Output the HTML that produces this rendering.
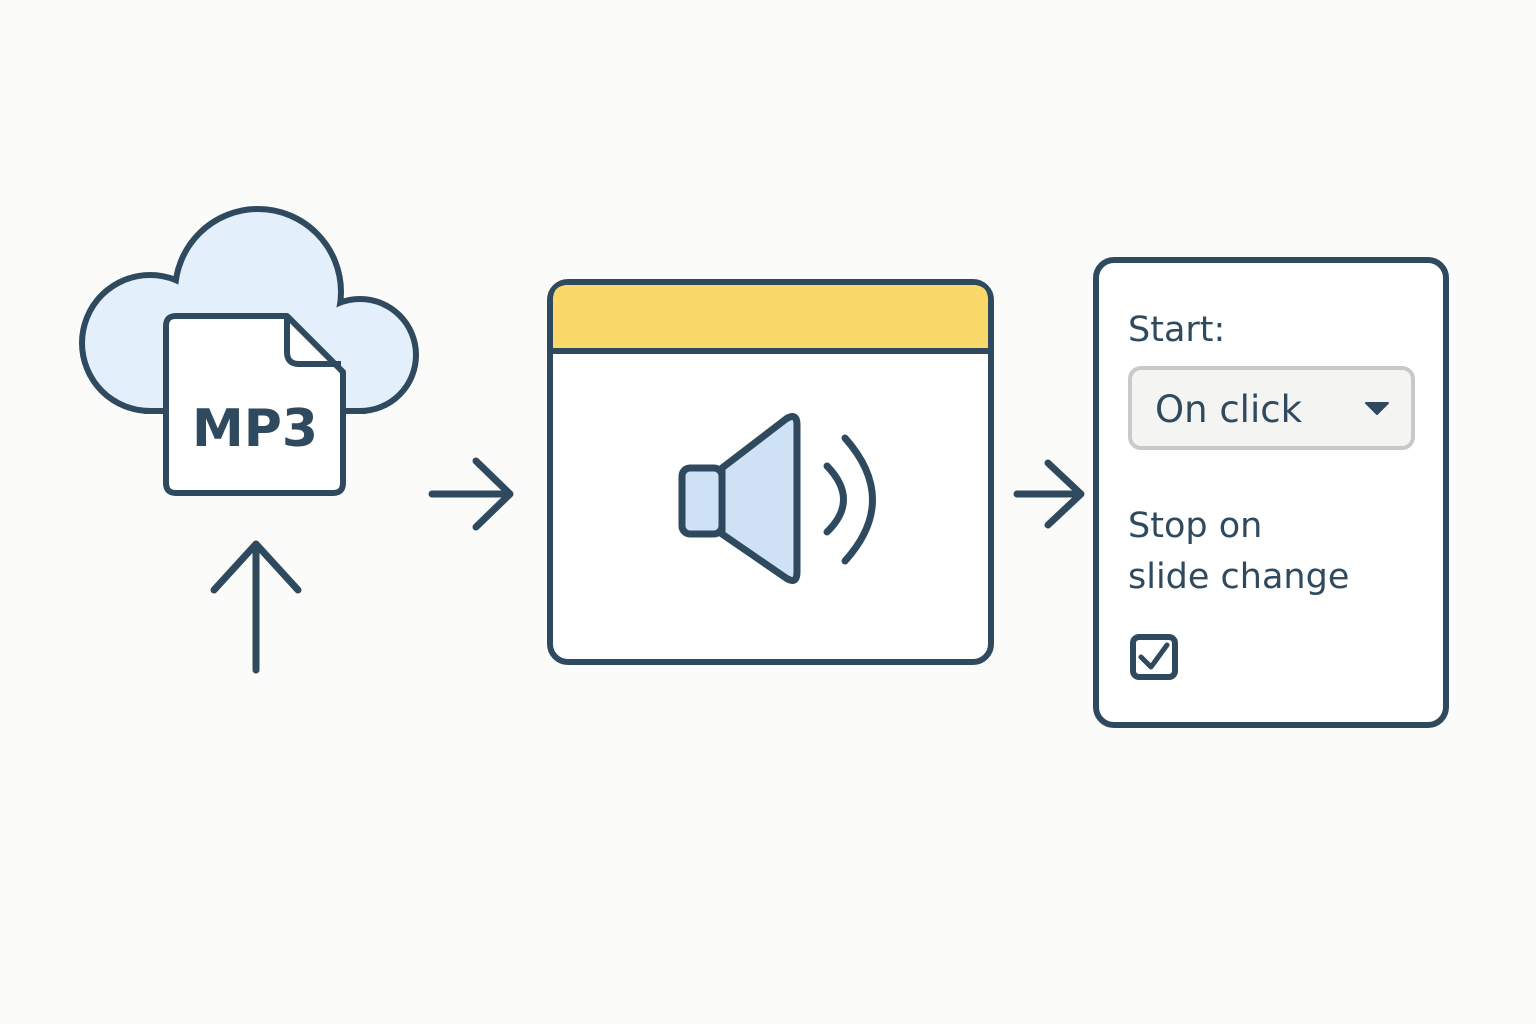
<!DOCTYPE html>
<html><head><meta charset="utf-8"><style>
html,body{margin:0;padding:0;background:#fbfbf9;}
svg{display:block}
text{font-family:"DejaVu Sans","Liberation Sans",sans-serif;fill:#2f4a5e}
</style></head><body>
<svg width="1536" height="1024" viewBox="0 0 1536 1024" xmlns="http://www.w3.org/2000/svg">
<rect width="1536" height="1024" fill="#fbfbf9"/>
<g stroke="#2f4a5e" stroke-width="12" fill="#e3f0fb">
<circle cx="150" cy="343" r="65"/>
<circle cx="258" cy="292" r="80"/>
<circle cx="360" cy="355" r="53"/>
<rect x="150" y="350" width="210" height="58"/>
</g>
<g fill="#e3f0fb">
<circle cx="150" cy="343" r="65"/>
<circle cx="258" cy="292" r="80"/>
<circle cx="360" cy="355" r="53"/>
<rect x="150" y="340" width="210" height="68"/>
</g>
<path d="M176,316 H287 L343,372 V483 Q343,493 333,493 H176 Q166,493 166,483 V326 Q166,316 176,316 Z" fill="#fff" stroke="#2f4a5e" stroke-width="6" stroke-linejoin="round"/>
<path d="M287,318 V352 Q287,364 299,364 H341" fill="none" stroke="#2f4a5e" stroke-width="6" stroke-linejoin="round"/>
<text x="255" y="446" font-size="52" font-weight="bold" text-anchor="middle">MP3</text>
<g stroke="#2f4a5e" stroke-width="7" stroke-linecap="round" stroke-linejoin="round" fill="none">
<path d="M256,670 V544 M214,590 L256,544 L298,590"/>
<path d="M432,494 H510 M476,461 L510,494 L476,527"/>
<path d="M1017,494 H1081 M1048,463 L1081,494 L1048,525"/>
</g>
<rect x="550" y="282" width="441" height="380" rx="18" fill="#fff" stroke="#2f4a5e" stroke-width="6"/>
<path d="M568,285 H973 Q988,285 988,300 V351 H553 V300 Q553,285 568,285 Z" fill="#fad96a"/>
<line x1="550" y1="351" x2="991" y2="351" stroke="#2f4a5e" stroke-width="6"/>
<g stroke="#2f4a5e" stroke-width="7" stroke-linejoin="round" stroke-linecap="round">
<rect x="682" y="468" width="40" height="66" rx="8" fill="#cfe2f5"/>
<path d="M722,468 L786,419 Q797,412 797,425 V572 Q797,585 786,578 L722,534 Z" fill="#cfe2f5"/>
<path d="M827,466 Q860,500 827,532" fill="none"/>
<path d="M845,438 Q900,500 845,561" fill="none"/>
</g>
<rect x="1096" y="260" width="350" height="465" rx="18" fill="#fff" stroke="#2f4a5e" stroke-width="6"/>
<text x="1128" y="341" font-size="35" font-weight="500">Start:</text>
<rect x="1130" y="368" width="283" height="80" rx="11" fill="#f4f4f3" stroke="#c9c9c9" stroke-width="4"/>
<text x="1155" y="422" font-size="37">On click</text>
<path d="M1366,403 H1388 L1377,414 Z" fill="#2f4a5e" stroke="#2f4a5e" stroke-width="2" stroke-linejoin="round"/>
<text x="1128" y="537" font-size="35">Stop on</text>
<text x="1128" y="588" font-size="35">slide change</text>
<rect x="1133" y="637" width="42" height="40" rx="6" fill="#fff" stroke="#2f4a5e" stroke-width="6"/>
<path d="M1141,657 L1151,667 L1167,645" fill="none" stroke="#2f4a5e" stroke-width="5" stroke-linecap="round" stroke-linejoin="round"/>
</svg>
</body></html>
